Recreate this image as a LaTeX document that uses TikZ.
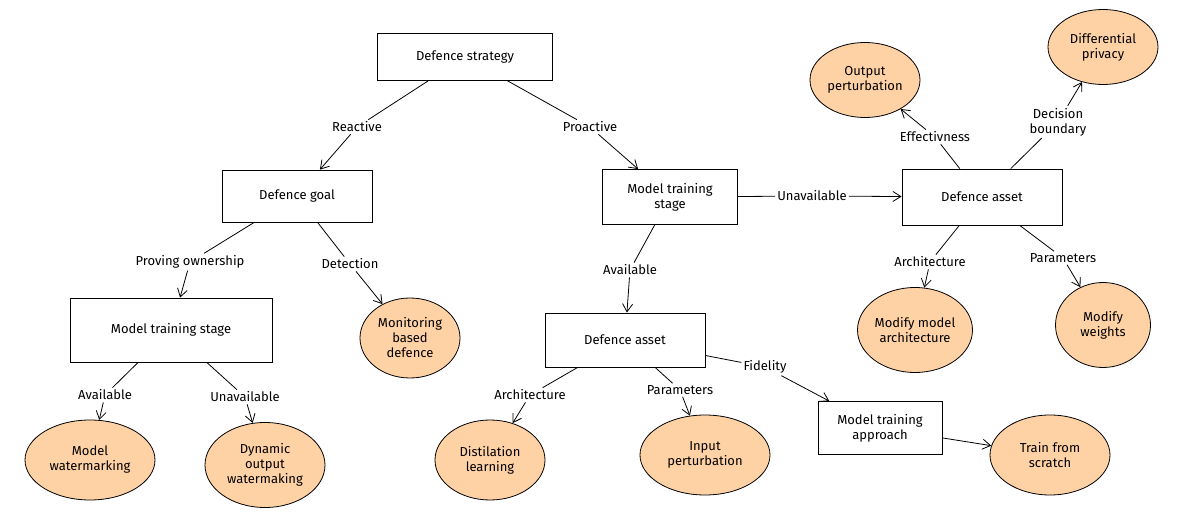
\documentclass[tikz,border=0pt]{standalone}
\usepackage{fontspec}
\setmainfont{Fira Sans}
\usetikzlibrary{shapes.geometric,arrows.meta}
\begin{document}
\begin{tikzpicture}[x=1pt,y=-1pt,
  every node/.style={font=\fontsize{13}{15}\selectfont, align=center},
  box/.style={draw, thick, minimum width=#1, minimum height=52, inner sep=2},
  leaf/.style={ellipse, draw, thick, fill=orange!35, inner sep=0},
  lbl/.style={fill=white, inner sep=2},
  ln/.style={thick},
  ar/.style={thick, -{Straight Barb[length=8pt,width=10pt]}}]
\useasboundingbox (0,0) rectangle (1200,529);
\node[box=175,minimum height=47] (ds) at (465,57) {Defence strategy};
\node[box=150] (dg) at (297,196) {Defence goal};
\node[box=202,minimum height=64] (mtl) at (171,330) {Model training stage};
\node[leaf,minimum width=100,minimum height=80] (mon) at (410,338) {Monitoring\\based\\defence};
\node[leaf,minimum width=130,minimum height=80] (wm) at (90,460) {Model\\watermarking};
\node[leaf,minimum width=120,minimum height=85] (dyn) at (265,465) {Dynamic\\output\\watermaking};
\node[box=135,minimum height=55] (mtm) at (670,197) {Model training\\stage};
\node[box=160,minimum height=56] (dar) at (982,197) {Defence asset};
\node[leaf,minimum width=110,minimum height=75] (op) at (865,80) {Output\\perturbation};
\node[leaf,minimum width=110,minimum height=75] (dp) at (1103,47) {Differential\\privacy};
\node[leaf,minimum width=115,minimum height=85] (mma) at (915,330) {Modify model\\architecture};
\node[leaf,minimum width=95,minimum height=85] (mw) at (1103,325) {Modify\\weights};
\node[box=160,minimum height=54] (dam) at (625,340) {Defence asset};
\node[leaf,minimum width=110,minimum height=80] (dl) at (490,460) {Distilation\\learning};
\node[leaf,minimum width=130,minimum height=80] (ip) at (705,455) {Input\\perturbation};
\node[box=124,minimum height=53] (mta) at (880,428) {Model training\\approach};
\node[leaf,minimum width=120,minimum height=80] (tfs) at (1050,455) {Train from\\scratch};

\node[lbl] (l1) at (357,127) {Reactive};
\node[lbl] (l2) at (590,127) {Proactive};
\node[lbl] (l3) at (190,262) {Proving ownership};
\node[lbl] (l4) at (350,264) {Detection};
\node[lbl] (l5) at (105,395) {Available};
\node[lbl] (l6) at (245,397) {Unavailable};
\node[lbl] (l7) at (630,270) {Available};
\node[lbl] (l8) at (812,196) {Unavailable};
\node[lbl] (l9) at (935,137) {Effectivness};
\node[lbl] (l10) at (1058,122) {Decision\\boundary};
\node[lbl] (l11) at (930,262) {Architecture};
\node[lbl] (l12) at (1063,258) {Parameters};
\node[lbl] (l13) at (530,395) {Architecture};
\node[lbl] (l14) at (680,390) {Parameters};
\node[lbl] (l15) at (765,367) {Fidelity};

\draw[ln] (ds) -- (l1); \draw[ar] (l1) -- (dg);
\draw[ln] (ds) -- (l2); \draw[ar] (l2) -- (mtm);
\draw[ln] (dg) -- (l3); \draw[ar] (l3) -- (mtl);
\draw[ln] (dg) -- (l4); \draw[ar] (l4) -- (mon);
\draw[ln] (mtl) -- (l5); \draw[ar] (l5) -- (wm);
\draw[ln] (mtl) -- (l6); \draw[ar] (l6) -- (dyn);
\draw[ln] (mtm) -- (l7); \draw[ar] (l7) -- (dam);
\draw[ln] (mtm) -- (l8); \draw[ar] (l8) -- (dar);
\draw[ln] (dar) -- (l9); \draw[ar] (l9) -- (op);
\draw[ln] (dar) -- (l10); \draw[ar] (l10) -- (dp);
\draw[ln] (dar) -- (l11); \draw[ar] (l11) -- (mma);
\draw[ln] (dar) -- (l12); \draw[ar] (l12) -- (mw);
\draw[ln] (dam) -- (l13); \draw[ar] (l13) -- (dl);
\draw[ln] (dam) -- (l14); \draw[ar] (l14) -- (ip);
\draw[ln] (dam) -- (l15); \draw[ar] (l15) -- (mta);
\draw[ar] (mta) -- (tfs);
\end{tikzpicture}
\end{document}
